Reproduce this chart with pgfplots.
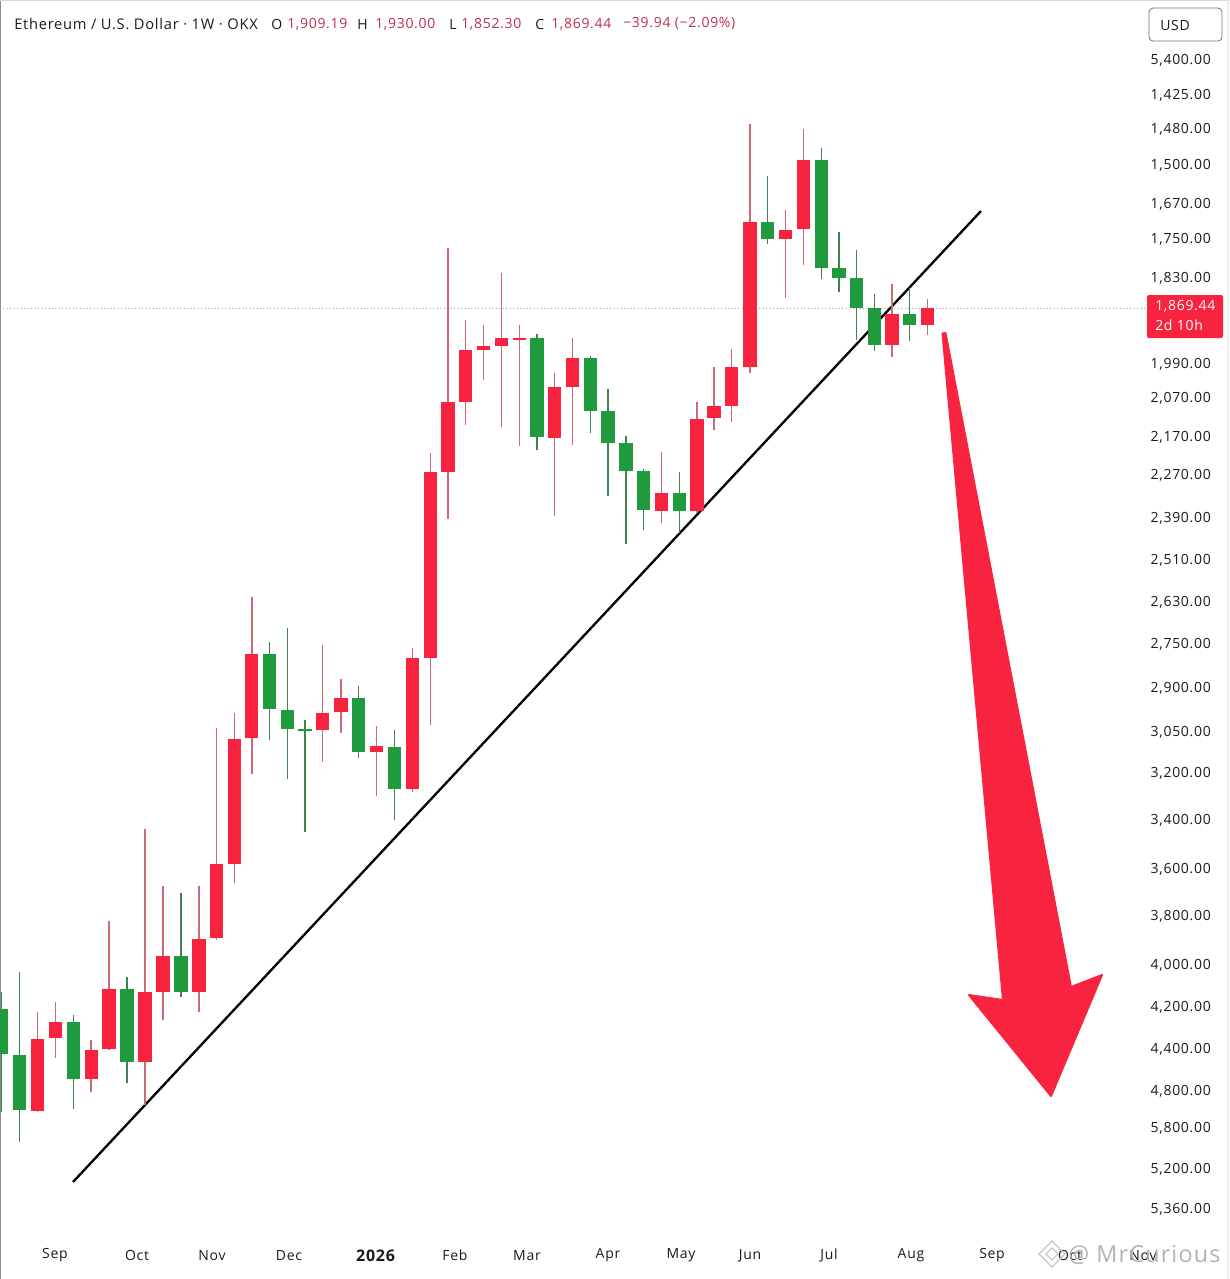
\documentclass[border=0pt]{standalone}
\usepackage{fontspec}
\setmainfont[LetterSpace=5]{Open Sans}
\usepackage{pgfplots}
\usepackage{pgfplotstable}
\pgfplotsset{compat=1.18}
\tikzset{hdr/.style={anchor=west, inner sep=0pt, font=\fontsize{10.5}{12}\selectfont}}
\definecolor{cred}{HTML}{F8233F}
\definecolor{cgreen}{HTML}{1F9A3C}
\definecolor{wred}{HTML}{CC6A76}
\definecolor{wgreen}{HTML}{3F7F50}
\definecolor{ttl}{HTML}{B8304F}
\definecolor{txt}{HTML}{1A1A1A}
% x, body top, body bottom, wick top, wick bottom (positions on the pixel-scaled price axis)
\pgfplotstableread{
x bt bb h l
37.3 1039 1111 1012 1112
55.2 1022 1038 1002 1058
91.1 1050 1079 1040 1092
109 989 1049 921 1050
145 992 1062 829 1105
163 956 992 886 1020
199 939 992 886 1012
216.7 864 938 728 940
234.7 739 864 713 883
251.9 654 738 597 774
322.7 713 730 645 762
341 698 712 679 733
376.7 746 752 726 796
412.3 658 789 648 792
430.3 472 658 453 725
448 402 472 248 519
465.7 350 402 320 425
483.4 346 350 325 380
501.7 338 346 273 427
519.2 338 339.5 325 446
554.7 387 438 373 516
572.7 358 387 338 445
661.3 493 511 452 523
697 419 511 402 513
714 406 418 367 430
731.8 367 406 349 422
750 222 367 124 373
785.7 230 239 210 298
803.7 160 229 129 265
892 314 345 284 357
927.7 308 325 299 335
}\redtable
\pgfplotstableread{
x bt bb h l
1.5 1009 1054 992 1112
19.3 1055 1110 972 1142
73.2 1022 1079 1015 1109
127 989 1062 977 1083
181 956 992 893 997
269.3 654 709 642 740
287.3 710 729 628 779
305 729 730.5 720 832
358.7 698 752 686 758
394.3 747 789 730 820
537 338 437 334 450
590.4 358 411 356 433
608 411 443 389 496
626 443 471 436 544
643.4 471 510 469 530
679.3 493 511 472 533
767.7 222 239 176 244
821.3 160 268 148 279
839 268 278 232 292
856.8 278 308 250 340
874.3 308 345 294 351
909.7 314 325 288 341
}\greentable
\begin{document}
\begin{tikzpicture}
\useasboundingbox (0,0) rectangle (922.5pt,959.25pt);
\begin{axis}[
  at={(0pt,35.25pt)}, anchor=south west,
  scale only axis, width=859.5pt, height=924pt,
  xmin=0, xmax=1146, ymin=0, ymax=1232, y dir=reverse,
  clip=false,
  axis line style={draw=none},
  major tick length=0pt,
  ytick={59,94,128,164,203,238,277,363,397,436,474,517,559,601,643,687,731,772,819,868,915,964,1006,1048,1090,1127,1168,1208},
  yticklabels={{5,400.00},{1,425.00},{1,480.00},{1,500.00},{1,670.00},{1,750.00},{1,830.00},{1,990.00},{2,070.00},{2,170.00},{2,270.00},{2,390.00},{2,510.00},{2,630.00},{2,750.00},{2,900.00},{3,050.00},{3,200.00},{3,400.00},{3,600.00},{3,800.00},{4,000.00},{4,200.00},{4,400.00},{4,800.00},{5,800.00},{5,200.00},{5,360.00}},
  yticklabel pos=right,
  ticklabel style={font=\fontsize{10.5}{12}\selectfont, text=txt},
  yticklabel style={anchor=west, yshift=-1pt},
  xtick={55,137,212,289,376,455,527,608,681,750,829,911,992,1070,1143},
  xticklabels={Sep,Oct,Nov,Dec,{\fontsize{12}{12}\selectfont\textbf{2026}},Feb,Mar,Apr,May,Jun,Jul,Aug,Sep,Oct,Nov},
  xticklabel style={anchor=center, yshift=-17.5pt},
]
% frame lines
\addplot[forget plot, color=black!45, line width=1.1pt] coordinates {(0.7,-47) (0.7,1279)};
\addplot[forget plot, color=black!15, line width=0.8pt] coordinates {(0,0.5) (1230,0.5)};
\addplot[forget plot, color=black!7, line width=1.5pt] coordinates {(1228,0) (1228,1279)};
% last price line
\addplot[forget plot, color=black!35, line width=0.6pt, dotted] coordinates {(0,308) (1146,308)};
% trend line
\addplot[forget plot, black, line width=1.75pt] coordinates {(73,1182) (981,211)};
% wicks
\addplot[forget plot, draw=none, mark=none, error bars/.cd, y dir=both, y explicit, error mark=none,
  error bar style={draw=wred, line width=1pt}]
  table[x=x, y expr=(\thisrow{h}+\thisrow{l})/2, y error expr=(\thisrow{l}-\thisrow{h})/2] {\redtable};
\addplot[forget plot, draw=none, mark=none, error bars/.cd, y dir=both, y explicit, error mark=none,
  error bar style={draw=wgreen, line width=1pt}]
  table[x=x, y expr=(\thisrow{h}+\thisrow{l})/2, y error expr=(\thisrow{l}-\thisrow{h})/2] {\greentable};
% bodies
\addplot[forget plot, draw=none, mark=none, error bars/.cd, y dir=both, y explicit, error mark=none,
  error bar style={draw=cred, line width=9.8pt}]
  table[x=x, y expr=(\thisrow{bt}+\thisrow{bb})/2, y error expr=(\thisrow{bb}-\thisrow{bt})/2] {\redtable};
\addplot[forget plot, draw=none, mark=none, error bars/.cd, y dir=both, y explicit, error mark=none,
  error bar style={draw=cgreen, line width=9.8pt}]
  table[x=x, y expr=(\thisrow{bt}+\thisrow{bb})/2, y error expr=(\thisrow{bb}-\thisrow{bt})/2] {\greentable};
% forecast arrow
\addplot[forget plot, fill=cred, draw=cred, line width=1.5pt, line join=round]
  coordinates {(942.5,333.5) (945.5,333) (1071,987) (1102,975) (1051,1096) (969,995) (1003,1000)} -- cycle;
% header
\node[hdr, font=\fontsize{11}{12}\selectfont, text=txt] at (axis cs:14,24) {Ethereum / U.S. Dollar · 1W · OKX};
\node[hdr, text=txt] at (axis cs:271,24) {O};
\node[hdr, text=ttl] at (axis cs:287,24) {1,909.19};
\node[hdr, text=txt] at (axis cs:357,24) {H};
\node[hdr, text=ttl] at (axis cs:375,24) {1,930.00};
\node[hdr, text=txt] at (axis cs:449,24) {L};
\node[hdr, text=ttl] at (axis cs:461,24) {1,852.30};
\node[hdr, text=txt] at (axis cs:535,24) {C};
\node[hdr, text=ttl] at (axis cs:551,24) {1,869.44};
\node[hdr, text=ttl] at (axis cs:623,24) {−39.94 (−2.09\%)};
% USD button
\draw[black!55, line width=0.6pt, rounded corners=3pt] (axis cs:1149,8) rectangle (axis cs:1222,41);
\node[hdr, text=txt] at (axis cs:1160,25) {USD};
% last price label
\fill[cred, rounded corners=1.5pt] (axis cs:1147,295) rectangle (axis cs:1223,338);
\node[hdr, text=white] at (axis cs:1155,306) {1,869.44};
\node[hdr, text=white] at (axis cs:1155,325) {2d 10h};
% watermark
\node[anchor=west, inner sep=0pt, font=\fontsize{17.5}{20}\selectfont, text=black!30] at (axis cs:1068,1255) {@ MrCurious};
\draw[black!22, line width=0.9pt] (axis cs:1052,1241) -- (axis cs:1065,1254) -- (axis cs:1052,1267) -- (axis cs:1039,1254) -- cycle;
\draw[black!22, line width=0.9pt] (axis cs:1052,1248) -- (axis cs:1058,1254) -- (axis cs:1052,1260) -- (axis cs:1046,1254) -- cycle;
\end{axis}
\end{tikzpicture}
\end{document}
